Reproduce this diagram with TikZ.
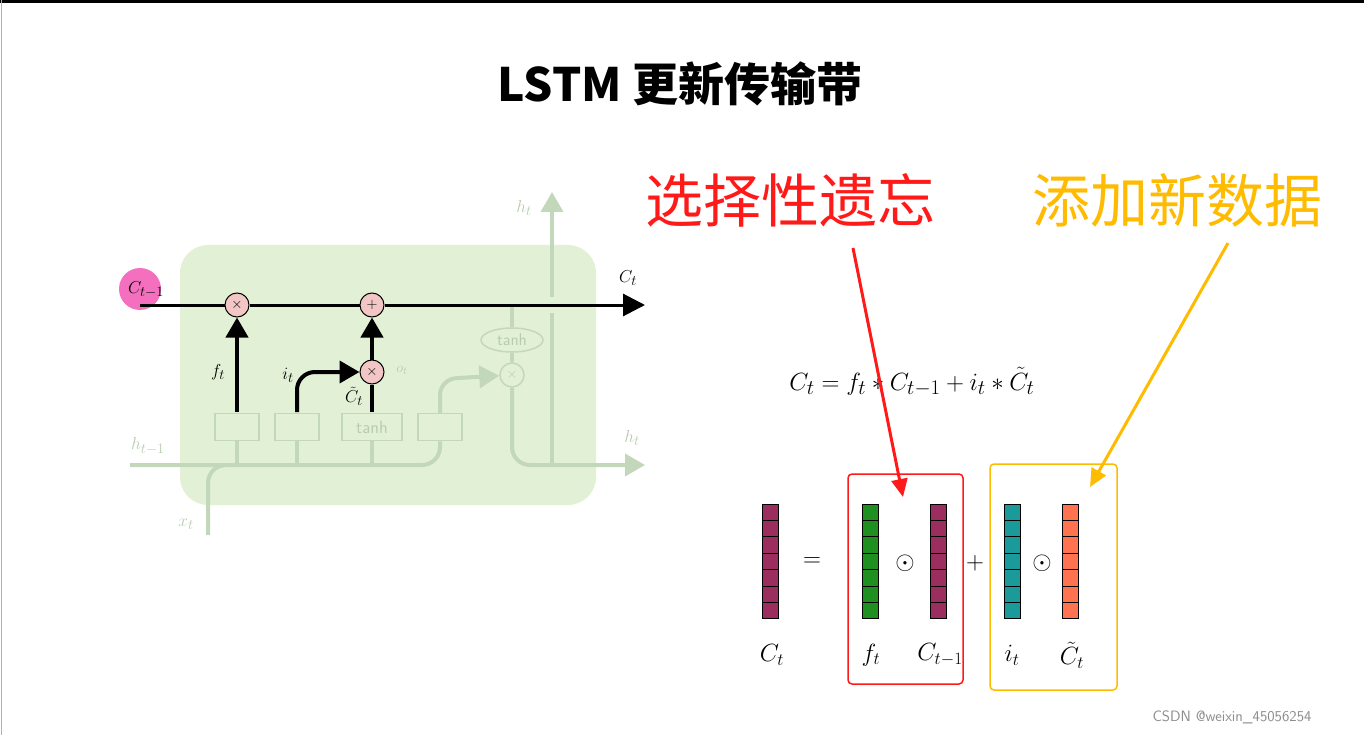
\documentclass[tikz,border=0pt]{standalone}
\usepackage{fontspec}
\newfontfamily\cjk{Noto Sans CJK SC}
\usetikzlibrary{arrows.meta,calc,shapes.geometric}
\definecolor{cellg}{HTML}{E2F1D6}
\definecolor{fade}{HTML}{C3D8BA}
\definecolor{fadet}{HTML}{B8CCB0}
\definecolor{pinkc}{HTML}{F3C6C6}
\definecolor{vpur}{HTML}{9B2D5F}
\definecolor{vgrn}{HTML}{1F8F1F}
\definecolor{vtea}{HTML}{1A9A9A}
\definecolor{vora}{HTML}{FF7350}
\definecolor{redt}{HTML}{FF1A1A}
\definecolor{orat}{HTML}{FFBB00}
\tikzset{
 op/.style={circle,draw=black,fill=pinkc,line width=1pt,minimum size=24pt,inner sep=0pt,font=\fontsize{14}{14}\selectfont},
 fop/.style={circle,draw=fade,line width=1.5pt,minimum size=24pt,inner sep=0pt,text=fadet,font=\fontsize{14}{14}\selectfont},
 gate/.style={draw=fade,line width=1.5pt,minimum width=44pt,minimum height=27pt,inner sep=0pt,text=fadet,font=\sffamily\fontsize{18}{18}\selectfont},
 fline/.style={fade,line width=4pt},
 bline/.style={black,line width=4pt},
 fl/.style={text=fadet,font=\fontsize{19}{19}\selectfont},
 bl/.style={font=\fontsize{19}{19}\selectfont},
 vlab/.style={font=\fontsize{26}{26}\selectfont},
}
\newcommand{\vect}[3]{\foreach \k in {0,...,6}{\draw[fill=#3,line width=1pt] (#1-8,#2+\k*16.4) rectangle (#1+8,#2+\k*16.4+16.4);}}
\begin{document}
\begin{tikzpicture}[x=1pt,y=-1pt]
\useasboundingbox (0,0) rectangle (1364,735);
\fill[white] (0,0) rectangle (1364,735);
\draw[line width=3pt] (0,1.5) -- (1364,1.5);
\draw[gray!60] (1,0) -- (1,735);
\node[font=\cjk\bfseries\fontsize{46}{46}\selectfont] (title) at (680,84) {LSTM 更新传输带};
\node[font=\cjk\fontsize{58}{58}\selectfont,text=redt] (sel) at (790,200) {选择性遗忘};
\node[font=\cjk\fontsize{58}{58}\selectfont,text=orat] (add) at (1177,200) {添加新数据};
% cell
\fill[cellg,rounded corners=28pt] (180,245) rectangle (596,505);
\node[gate] (g1) at (237,427) {σ};
\node[gate] (g2) at (297,427) {σ};
\node[gate,minimum width=60pt] (g3) at (372,427) {tanh};
\node[gate] (g4) at (440,427) {σ};
\node[draw=fade,line width=1.5pt,ellipse,minimum width=62pt,minimum height=24pt,inner sep=0pt,text=fadet,font=\sffamily\fontsize{17}{17}\selectfont] (th) at (512,340) {tanh};
\node[fop] (m3) at (512,375) {$\times$};
\coordinate (hin) at (130,465);
\coordinate (hout) at (645,465);
\coordinate (xin) at (208,535);
\coordinate (htop) at (552,192);
\draw[fline] (hin) -- (422,465) to[out=0,in=-90] (440,447) -- (g4);
\draw[fline] (xin) -- (208,483) to[out=90,in=180] (226,465);
\draw[fline] (g1) -- (237,465); \draw[fline] (g2) -- (297,465); \draw[fline] (g3) -- (372,465);
\draw[fline,-{Triangle[length=20pt,width=22pt]}] (g4) -- (440,395) to[out=90,in=180] (458,378) -- (m3);
\draw[fline] (512,305) -- (th); \draw[fline] (th) -- (m3);
\draw[fline,-{Triangle[length=20pt,width=22pt]}] (m3) -- (512,447) to[out=-90,in=180] (530,465) -- (hout);
\draw[fline] (552,465) -- (552,313);
\draw[fline,-{Triangle[length=20pt,width=22pt]}] (552,297) -- (htop);
\node[fl] (lht) at (524,208) {$h_t$};
\node[fl] (lht2) at (632,438) {$h_t$};
\node[fl] (lhp) at (148,446) {$h_{t-1}$};
\node[fl] (lx) at (186,524) {$x_t$};
\node[fl,font=\fontsize{15}{15}\selectfont] (lo) at (402,370) {$o_t$};
% magenta blob
\fill[magenta!70,opacity=0.8] (140,289) circle (21pt);
\node[bl] (lcp) at (146,290) {$C_{t-1}$};
% black paths
\node[op] (m1) at (237,305) {$\times$};
\node[op] (p1) at (372,305) {$+$};
\node[op] (m2) at (372,372) {$\times$};
\coordinate (cin) at (140,305);
\coordinate (cout) at (645,305);
\draw[black,line width=3pt] (cin) -- (m1); \draw[black,line width=3pt] (m1) -- (p1);
\draw[black,line width=3pt,-{Triangle[length=22pt,width=22pt]}] (p1) -- (cout);
\draw[bline,-{Triangle[length=20pt,width=22pt]}] (237,412) -- (m1);
\draw[bline,-{Triangle[length=20pt,width=22pt]}] (297,412) -- (297,390) to[out=90,in=180] (315,372) -- (m2);
\draw[bline] (372,412) -- (m2);
\draw[bline,-{Triangle[length=20pt,width=22pt]}] (m2) -- (p1);
\node[bl] (lct) at (628,278) {$C_t$};
\node[bl] (lf) at (218,372) {$f_t$};
\node[bl] (li) at (288,375) {$i_t$};
\node[bl] (lcc) at (354,396) {$\tilde C_t$};
% equation
\node[font=\fontsize{31}{31}\selectfont] (eq) at (912,382) {$C_t = f_t * C_{t-1} + i_t * \tilde{C}_t$};
% vectors
\vect{770}{504}{vpur}
\vect{870}{504}{vgrn}
\vect{938}{504}{vpur}
\vect{1012}{504}{vtea}
\vect{1070}{504}{vora}
\node[vlab] (eqs) at (812,562) {$=$};
\node[vlab] (o1) at (905,563) {$\odot$};
\node[vlab] (pl) at (975,563) {$+$};
\node[vlab] (o2) at (1042,563) {$\odot$};
\node[vlab] (l1) at (772,655) {$C_t$};
\node[vlab] (l2) at (871,655) {$f_t$};
\node[vlab] (l3) at (940,655) {$C_{t-1}$};
\node[vlab] (l4) at (1012,655) {$i_t$};
\node[vlab] (l5) at (1072,655) {$\tilde C_t$};
\node[draw=redt,line width=1.5pt,rounded corners=4pt,minimum width=115pt,minimum height=210pt] (rb) at (905.5,579) {};
\node[draw=orat,line width=1.5pt,rounded corners=4pt,minimum width=127pt,minimum height=226pt] (ob) at (1053.5,577) {};
\draw[redt,line width=3pt,-{Triangle[length=18pt,width=16pt]}] (853,248) -- (903,497);
\draw[orat,line width=3pt,-{Triangle[length=18pt,width=16pt]}] (1228,243) -- (1090,487);
\node[text=gray!90,font=\sffamily\fontsize{15}{15}\selectfont] (wm) at (1232,717) {CSDN @weixin\_45056254};
\end{tikzpicture}
\end{document}
